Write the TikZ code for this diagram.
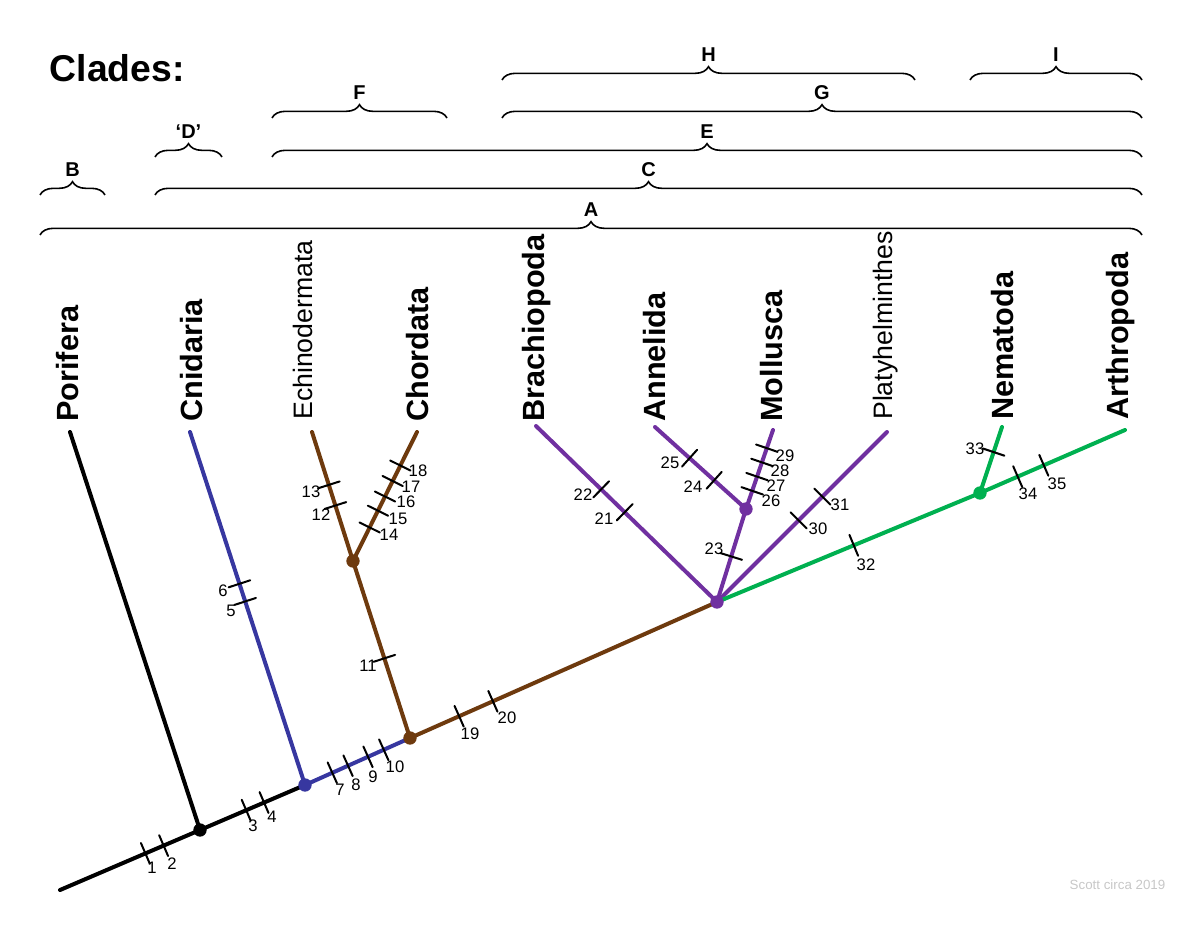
\documentclass[tikz,border=0pt]{standalone}
\usepackage{fontspec}
\setmainfont{Liberation Sans}
\usetikzlibrary{decorations.pathreplacing}
\definecolor{cblue}{RGB}{55,55,160}
\definecolor{cbrown}{RGB}{110,58,14}
\definecolor{cpurple}{RGB}{112,48,160}
\definecolor{cgreen}{RGB}{0,176,80}
\begin{document}
\begin{tikzpicture}[x=0.75pt,y=-0.75pt,
  br/.style={line width=1.2pt,decorate,decoration={brace,amplitude=10pt}},
  cl/.style={font=\bfseries\fontsize{15}{17}\selectfont},
  leaf/.style={rotate=90,anchor=west,inner sep=0pt,font=\bfseries\fontsize{23}{25}\selectfont},
  leafs/.style={rotate=90,anchor=west,inner sep=0pt,font=\fontsize{20}{22}\selectfont},
  br0/.style={line width=3pt,line cap=round},
  dot/.style={circle,fill,inner sep=0pt,minimum size=10pt},
  tk/.style={sloped,inner sep=0pt,minimum width=0pt,minimum height=14pt,
    append after command={(\tikzlastnode.north) edge[draw=black,line width=1.5pt] (\tikzlastnode.south)}},
  num/.style={font=\fontsize{12.5}{14}\selectfont,inner sep=0pt}]
\useasboundingbox (0,0) rectangle (1200,927);
\node[anchor=west,font=\bfseries\fontsize{28}{32}\selectfont] (title) at (45,68) {Clades:};
% braces
\draw[br] (40,235) -- (1142,235) node[cl,midway,above=10pt] (lA) {A};
\draw[br] (40,195) -- (105,195) node[cl,midway,above=10pt] (lB) {B};
\draw[br] (155,195) -- (1142,195) node[cl,midway,above=10pt] (lC) {C};
\draw[br] (155,157) -- (222,157) node[cl,midway,above=10pt] (lD) {`D'};
\draw[br] (272,157) -- (1142,157) node[cl,midway,above=10pt] (lE) {E};
\draw[br] (272,118) -- (447,118) node[cl,midway,above=10pt] (lF) {F};
\draw[br] (502,118) -- (1142,118) node[cl,midway,above=10pt] (lG) {G};
\draw[br] (502,80) -- (915,80) node[cl,midway,above=10pt] (lH) {H};
\draw[br] (970,80) -- (1142,80) node[cl,midway,above=10pt] (lI) {I};
% leaf labels
\node[leaf] (tPor) at (68,422) {Porifera};
\node[leaf] (tCni) at (192,422) {Cnidaria};
\node[leafs] (tEch) at (303,420) {Echinodermata};
\node[leaf] (tCho) at (418,422) {Chordata};
\node[leaf] (tBra) at (537,422) {Brachiopoda};
\node[leaf] (tAnn) at (655,422) {Annelida};
\node[leaf] (tMol) at (772,422) {Mollusca};
\node[leafs] (tPla) at (886,420) {Platyhelminthes};
\node[leaf] (tNem) at (1003,420) {Nematoda};
\node[leaf] (tArt) at (1121,420) {Arthropoda};
% coordinates
\coordinate (r0) at (60,890);
\coordinate (Por) at (70,432);
\coordinate (Cni) at (190,432);
\coordinate (Ech) at (312,432);
\coordinate (Cho) at (417,432);
\coordinate (Bra) at (536,426);
\coordinate (Ann) at (655,427);
\coordinate (Mol) at (773,430);
\coordinate (Pla) at (887,432);
\coordinate (Nem) at (1002,427);
\coordinate (Art) at (1125,430);
\coordinate (n1) at (200,830);
\coordinate (n2) at (305,785);
\coordinate (n3) at (410,738);
\coordinate (n4) at (353,561);
\coordinate (n5) at (717,602);
\coordinate (n6) at (746,509);
\coordinate (n7) at (980,493);
% black
\draw[br0,black] (r0) -- (n1) node[tk,pos=.61]{} node[tk,pos=.74]{};
\draw[br0,black] (n1) -- (Por);
\draw[br0,black] (n1) -- (n2) node[tk,pos=.44]{} node[tk,pos=.61]{};
% blue
\draw[br0,cblue] (n2) -- (Cni) node[tk,pos=.52]{} node[tk,pos=.57]{};
\draw[br0,cblue] (n2) -- (n3) node[tk,pos=.26]{} node[tk,pos=.41]{} node[tk,pos=.6]{} node[tk,pos=.75]{};
% brown
\draw[br0,cbrown] (n3) -- (n4) node[tk,pos=.45]{};
\draw[br0,cbrown] (n4) -- (Ech) node[tk,pos=.43]{} node[tk,pos=.59]{};
\draw[br0,cbrown] (n4) -- (Cho) node[tk,pos=.26]{} node[tk,pos=.39]{} node[tk,pos=.5]{} node[tk,pos=.62]{} node[tk,pos=.74]{};
\draw[br0,cbrown] (n3) -- (n5) node[tk,pos=.16]{} node[tk,pos=.27]{};
% purple
\draw[br0,cpurple] (n5) -- (Bra) node[tk,pos=.51]{} node[tk,pos=.64]{};
\draw[br0,cpurple] (n5) -- (n6) node[tk,pos=.49]{};
\draw[br0,cpurple] (n6) -- (Ann) node[tk,pos=.35]{} node[tk,pos=.62]{};
\draw[br0,cpurple] (n6) -- (Mol) node[tk,pos=.23]{} node[tk,pos=.41]{} node[tk,pos=.59]{} node[tk,pos=.77]{};
\draw[br0,cpurple] (n5) -- (Pla) node[tk,pos=.48]{} node[tk,pos=.62]{};
% green
\draw[br0,cgreen] (n5) -- (n7) node[tk,pos=.52]{};
\draw[br0,cgreen] (n7) -- (Nem) node[tk,pos=.62]{};
\draw[br0,cgreen] (n7) -- (Art) node[tk,pos=.26]{} node[tk,pos=.44]{};
% dots
\node[dot,black] (d1) at (n1) {};
\node[dot,cblue] (d2) at (n2) {};
\node[dot,cbrown] (d3) at (n3) {};
\node[dot,cbrown] (d4) at (n4) {};
\node[dot,cpurple] (d5) at (n5) {};
\node[dot,cpurple] (d6) at (n6) {};
\node[dot,cgreen] (d7) at (n7) {};
% numbers
\node[num] (k1) at (152,868) {1};
\node[num] (k2) at (172,864) {2};
\node[num] (k3) at (253,826) {3};
\node[num] (k4) at (272,817) {4};
\node[num] (k5) at (231,611) {5};
\node[num] (k6) at (223,591) {6};
\node[num] (k7) at (340,790) {7};
\node[num] (k8) at (356,785) {8};
\node[num] (k9) at (373,777) {9};
\node[num] (k10) at (395,767) {10};
\node[num] (k11) at (368,666) {11};
\node[num] (k12) at (321,515) {12};
\node[num] (k13) at (311,492) {13};
\node[num] (k14) at (389,535) {14};
\node[num] (k15) at (398,519) {15};
\node[num] (k16) at (406,502) {16};
\node[num] (k17) at (411,487) {17};
\node[num] (k18) at (418,471) {18};
\node[num] (k19) at (470,734) {19};
\node[num] (k20) at (507,718) {20};
\node[num] (k21) at (604,519) {21};
\node[num] (k22) at (583,495) {22};
\node[num] (k23) at (714,549) {23};
\node[num] (k24) at (693,487) {24};
\node[num] (k25) at (670,463) {25};
\node[num] (k26) at (771,501) {26};
\node[num] (k27) at (776,486) {27};
\node[num] (k28) at (780,471) {28};
\node[num] (k29) at (785,456) {29};
\node[num] (k30) at (818,529) {30};
\node[num] (k31) at (840,505) {31};
\node[num] (k32) at (866,565) {32};
\node[num] (k33) at (975,449) {33};
\node[num] (k34) at (1028,494) {34};
\node[num] (k35) at (1057,484) {35};
\node[anchor=east,text=black!22,font=\fontsize{10}{12}\selectfont] (sig) at (1170,885) {Scott circa 2019};
\end{tikzpicture}
\end{document}
